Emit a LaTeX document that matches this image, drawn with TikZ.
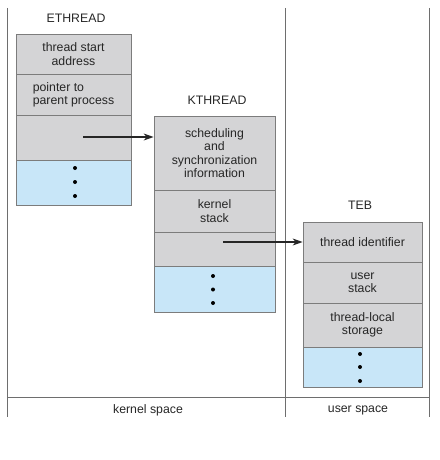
\documentclass[tikz,border=0pt]{standalone}
\usepackage{fontspec}
\setmainfont{Liberation Sans}
\usetikzlibrary{arrows.meta}
\definecolor{cellgray}{HTML}{D4D4D6}
\definecolor{cellblue}{HTML}{C8E6F8}
\definecolor{edgegray}{HTML}{7C7C7C}
\definecolor{linegray}{HTML}{6E6E6E}
\begin{document}
\begin{tikzpicture}[x=1pt,y=-1pt,
  cell/.style={draw=edgegray,line width=0.8pt,fill=cellgray,inner sep=0pt,align=center,
    font=\fontsize{12.3}{13.3}\selectfont,text=black!85},
  bluecell/.style={cell,fill=cellblue},
  title/.style={font=\fontsize{12.3}{14}\selectfont,text=black!85},
  sep/.style={draw=linegray,line width=0.9pt},
  ptr/.style={draw=black!85,line width=1.2pt,-{Stealth[length=10pt,width=7pt]}},
  dot/.style={circle,fill=black,inner sep=0pt,minimum size=4pt}
]
\useasboundingbox (0,0) rectangle (439,460);

% space separators
\coordinate (l1) at (7,8);
\coordinate (l2) at (7,417);
\coordinate (m1) at (285,8);
\coordinate (m2) at (285,417);
\coordinate (r1) at (429,8);
\coordinate (r2) at (429,417);
\coordinate (h1) at (7,397);
\coordinate (h2) at (429,397);
\draw[sep] (l1) -- (l2);
\draw[sep] (m1) -- (m2);
\draw[sep] (r1) -- (r2);
\draw[sep] (h1) -- (h2);
\node[title] (ks) at (148,410) {kernel space};
\node[title] (us) at (358,410) {user space};

% ETHREAD
\node[title] (et) at (76,18) {ETHREAD};
\node[cell,minimum width=115pt,minimum height=40pt] (e1) at (73.5,54) {thread start\\address};
\node[cell,minimum width=115pt,minimum height=41pt,align=left] (e2) at (73.5,94.5) {pointer to\\parent process};
\node[cell,minimum width=115pt,minimum height=45pt] (e3) at (73.5,137.5) {};
\node[bluecell,minimum width=115pt,minimum height=45pt] (e4) at (73.5,182.5) {};
\node[dot] (ed1) at (75,168) {};
\node[dot] (ed2) at (75,182) {};
\node[dot] (ed3) at (75,196) {};

% KTHREAD
\node[title] (kt) at (217,100) {KTHREAD};
\node[cell,minimum width=121pt,minimum height=74pt] (k1) at (214.5,153) {scheduling\\and\\synchronization\\information};
\node[cell,minimum width=121pt,minimum height=42pt] (k2) at (214.5,211) {kernel\\stack};
\node[cell,minimum width=121pt,minimum height=34pt] (k3) at (214.5,249) {};
\node[bluecell,minimum width=121pt,minimum height=46pt] (k4) at (214.5,289) {};
\node[dot] (kd1) at (213,276) {};
\node[dot] (kd2) at (213,289.5) {};
\node[dot] (kd3) at (213,303) {};

% TEB
\node[title] (tb) at (360,205) {TEB};
\node[cell,minimum width=119pt,minimum height=40pt] (t1) at (362.5,242) {thread identifier};
\node[cell,minimum width=119pt,minimum height=41pt] (t2) at (362.5,282.5) {user\\stack};
\node[cell,minimum width=119pt,minimum height=44pt] (t3) at (362.5,325) {thread-local\\storage};
\node[bluecell,minimum width=119pt,minimum height=40pt] (t4) at (362.5,367) {};
\node[dot] (td1) at (360,354) {};
\node[dot] (td2) at (360,367) {};
\node[dot] (td3) at (360,381) {};

% pointers
\coordinate (p1) at (83,137);
\coordinate (p2) at (223,242);
\draw[ptr] (p1) -- (p1 -| k1.west);
\draw[ptr] (p2) -- (p2 -| t1.west);
\end{tikzpicture}
\end{document}
